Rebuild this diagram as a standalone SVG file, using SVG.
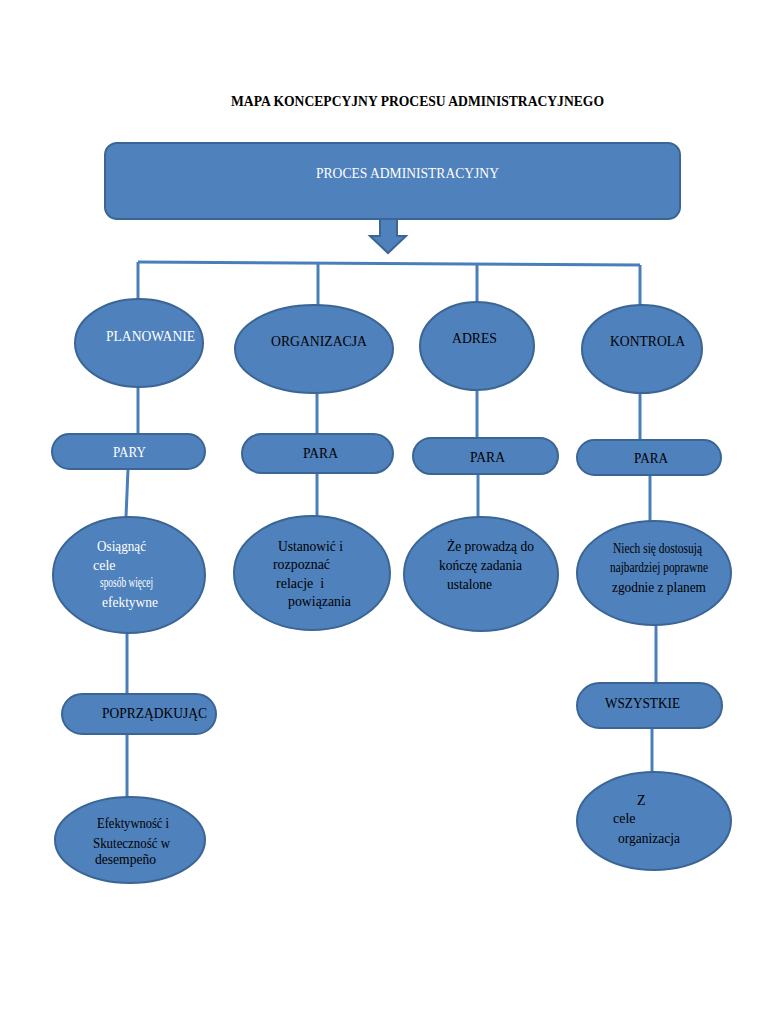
<svg xmlns="http://www.w3.org/2000/svg" width="768" height="1024" viewBox="0 0 768 1024">
<style>
.shape{fill:#4f81bd;stroke:#3a6594;stroke-width:2}
.conn{stroke:#4a7ebb;stroke-width:3;fill:none}
text{font-family:"Liberation Serif","Times New Roman",serif;font-size:14px}
.w{fill:#ffffff}
.b{fill:#000000}
</style>
<rect width="768" height="1024" fill="#ffffff"/>
<text x="231" y="106" font-weight="bold" font-size="13" textLength="373" lengthAdjust="spacingAndGlyphs">MAPA KONCEPCYJNY PROCESU ADMINISTRACYJNEGO</text>
<g id="proces">
<rect class="shape" x="105" y="143" width="575" height="76" rx="12"/>
<text class="w" x="316" y="178" textLength="183" lengthAdjust="spacingAndGlyphs">PROCES ADMINISTRACYJNY</text>
</g>
<g id="arrow">
<path class="shape" stroke-width="1.5" d="M380,219 H397 V236 H406 L388,253 L370,236 H380 Z"/>
</g>
<g id="connectors">
<path class="conn" d="M138,262 L640,265"/>
<path class="conn" d="M138,262 V300"/>
<path class="conn" d="M318,263 V306"/>
<path class="conn" d="M477,264 V303"/>
<path class="conn" d="M640,265 V306"/>
<path class="conn" d="M138,387 V434"/>
<path class="conn" d="M317,393 V434"/>
<path class="conn" d="M477,390 V438"/>
<path class="conn" d="M640,393 V440"/>
<path class="conn" d="M128,469 L126,517"/>
<path class="conn" d="M317,473 V517"/>
<path class="conn" d="M478,474 V517"/>
<path class="conn" d="M650,475 V522"/>
<path class="conn" d="M127,633 V694"/>
<path class="conn" d="M127,734 V797"/>
<path class="conn" d="M656,625 V683"/>
<path class="conn" d="M652,728 V772"/>
</g>
<g id="planowanie">
<ellipse class="shape" cx="139" cy="343" rx="64" ry="44"/>
<text class="w" x="106" y="341" textLength="89" lengthAdjust="spacingAndGlyphs">PLANOWANIE</text>
</g>
<g id="organizacja">
<ellipse class="shape" cx="314" cy="349" rx="79" ry="44"/>
<text class="b" x="271" y="346" textLength="96" lengthAdjust="spacingAndGlyphs">ORGANIZACJA</text>
</g>
<g id="adres">
<ellipse class="shape" cx="477" cy="346" rx="57" ry="44"/>
<text class="b" x="452" y="343" textLength="45" lengthAdjust="spacingAndGlyphs">ADRES</text>
</g>
<g id="kontrola">
<ellipse class="shape" cx="642" cy="349" rx="60" ry="44"/>
<text class="b" x="610" y="346" textLength="75" lengthAdjust="spacingAndGlyphs">KONTROLA</text>
</g>
<g id="pary">
<rect class="shape" x="52" y="434" width="153" height="35" rx="17.5"/>
<text class="w" x="113" y="457" textLength="33" lengthAdjust="spacingAndGlyphs">PARY</text>
</g>
<g id="para2">
<rect class="shape" x="242" y="434" width="151" height="39" rx="19.5"/>
<text class="b" x="303" y="458" textLength="35" lengthAdjust="spacingAndGlyphs">PARA</text>
</g>
<g id="para3">
<rect class="shape" x="413" y="438" width="145" height="36" rx="18"/>
<text class="b" x="470" y="462" textLength="35" lengthAdjust="spacingAndGlyphs">PARA</text>
</g>
<g id="para4">
<rect class="shape" x="577" y="440" width="144" height="35" rx="17.5"/>
<text class="b" x="634" y="463" textLength="34" lengthAdjust="spacingAndGlyphs">PARA</text>
</g>
<g id="osiagnac">
<ellipse class="shape" cx="129" cy="575" rx="76" ry="58"/>
<text class="w" x="97" y="551" textLength="49" lengthAdjust="spacingAndGlyphs">Osiągnąć</text>
<text class="w" x="93" y="570">cele</text>
<text class="w" x="100" y="587" font-size="10" textLength="53" lengthAdjust="spacingAndGlyphs">sposób więcej</text>
<text class="w" x="102" y="607" textLength="56" lengthAdjust="spacingAndGlyphs">efektywne</text>
</g>
<g id="ustanowic">
<ellipse class="shape" cx="312" cy="573" rx="78" ry="57"/>
<text class="b" x="278" y="551" textLength="65" lengthAdjust="spacingAndGlyphs">Ustanowić i</text>
<text class="b" x="273" y="569" textLength="57" lengthAdjust="spacingAndGlyphs">rozpoznać</text>
<text class="b" x="276" y="588" xml:space="preserve">relacje  i</text>
<text class="b" x="288" y="606" textLength="63" lengthAdjust="spacingAndGlyphs">powiązania</text>
</g>
<g id="prowadza">
<ellipse class="shape" cx="481" cy="574" rx="77" ry="57"/>
<text class="b" x="447" y="551" textLength="87" lengthAdjust="spacingAndGlyphs">Że prowadzą do</text>
<text class="b" x="439" y="570" textLength="83" lengthAdjust="spacingAndGlyphs">kończę zadania</text>
<text class="b" x="447" y="589" textLength="45" lengthAdjust="spacingAndGlyphs">ustalone</text>
</g>
<g id="niech">
<ellipse class="shape" cx="654" cy="573" rx="77" ry="52"/>
<text class="b" x="613" y="553" font-size="11" textLength="89" lengthAdjust="spacingAndGlyphs">Niech się dostosują</text>
<text class="b" x="610" y="572" font-size="11" textLength="98" lengthAdjust="spacingAndGlyphs">najbardziej poprawne</text>
<text class="b" x="612" y="592" font-size="13" textLength="94" lengthAdjust="spacingAndGlyphs">zgodnie z planem</text>
</g>
<g id="poprzadkujac">
<rect class="shape" x="62" y="694" width="154" height="40" rx="20"/>
<text class="b" x="102" y="718" textLength="105" lengthAdjust="spacingAndGlyphs">POPRZĄDKUJĄC</text>
</g>
<g id="wszystkie">
<rect class="shape" x="577" y="683" width="145" height="45" rx="22.5"/>
<text class="b" x="605" y="708" textLength="75" lengthAdjust="spacingAndGlyphs">WSZYSTKIE</text>
</g>
<g id="efektywnosc">
<ellipse class="shape" cx="130" cy="840" rx="75" ry="43"/>
<text class="b" x="97" y="828" textLength="72" lengthAdjust="spacingAndGlyphs">Efektywność i</text>
<text class="b" x="93" y="848" textLength="77" lengthAdjust="spacingAndGlyphs">Skuteczność w</text>
<text class="b" x="95" y="864" textLength="61" lengthAdjust="spacingAndGlyphs">desempeño</text>
</g>
<g id="cele">
<ellipse class="shape" cx="654" cy="821" rx="77" ry="49"/>
<text class="b" x="637" y="805">Z</text>
<text class="b" x="613" y="823">cele</text>
<text class="b" x="618" y="843" textLength="62" lengthAdjust="spacingAndGlyphs">organizacja</text>
</g>
</svg>
